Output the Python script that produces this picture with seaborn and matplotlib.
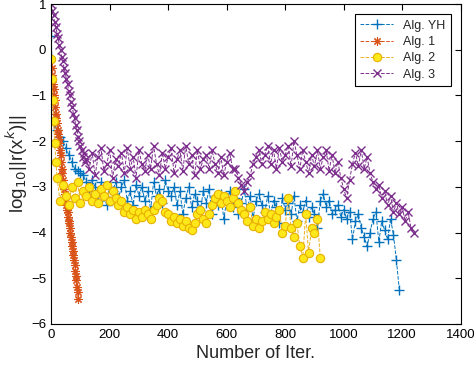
import numpy as np
import pandas as pd
import matplotlib
matplotlib.use("Agg")
import matplotlib.pyplot as plt
import seaborn as sns

# Alg. YH: iterations 0..1190, step 10
yh_vals = [0.3, -1.6, -1.75, -1.9, -2.0, -2.15, -2.3, -2.45, -2.6, -2.65, -2.7,
           -2.75, -2.9, -3.1, -2.85, -3.0, -3.3, -2.9, -3.2, -3.4, -3.0,
           -3.1, -2.9, -3.25, -3.0, -2.85, -3.3, -3.1, -3.4, -2.95, -3.2,
           -3.0, -3.3, -3.1, -3.5, -2.9, -3.2, -3.05, -3.35, -2.85, -3.1,
           -3.2, -3.0, -3.4, -3.1, -3.6, -3.25, -3.0, -3.45, -3.15, -3.3,
           -3.5, -3.1, -3.35, -3.05, -3.6, -3.2, -3.4, -3.15, -3.7, -3.3,
           -3.1, -3.45, -3.25, -3.6, -3.35, -3.05, -3.5, -3.2, -3.7, -3.3,
           -3.15, -3.4, -3.55, -3.2, -3.6, -3.3, -3.45, -3.8, -3.25, -3.5,
           -3.35, -3.6, -3.2, -3.75, -3.4, -3.55, -3.3, -3.65, -3.45, -3.6,
           -3.9, -3.3, -3.15, -3.45, -3.3, -3.6, -3.5, -3.4, -3.65, -3.5,
           -3.7, -3.55, -4.15, -3.75, -3.6, -3.9, -4.1, -4.3, -4.0, -3.7,
           -3.55, -4.2, -3.75, -3.95, -4.15, -3.7, -4.05, -4.6, -5.25]

# Alg. 1: iterations 0..92, step 2
alg1_vals = [-0.2, -0.4, -0.55, -0.75, -0.85, -1.0, -1.1, -1.25, -1.4, -1.5,
             -1.6, -1.75, -1.85, -1.95, -2.05, -2.2, -2.3, -2.45, -2.6, -2.7,
             -2.85, -2.95, -3.05, -3.15, -3.25, -3.3, -3.4, -3.5, -3.55, -3.65,
             -3.75, -3.8, -3.9, -4.0, -4.1, -4.2, -4.3, -4.4, -4.5, -4.6,
             -4.7, -4.85, -4.95, -5.05, -5.2, -5.3, -5.45]

# Alg. 2: first iterations given explicitly, then 30..920 step 10
alg2_head_iter = [0, 3, 5, 8, 12, 16, 20]
alg2_head_vals = [-0.2, -0.65, -1.1, -1.55, -2.05, -2.45, -2.8]
alg2_vals = [-3.3, -2.95, -3.2, -3.4, -3.0, -3.25, -2.9, -3.35, -3.1, -3.2,
             -3.0, -3.3, -3.15, -3.35, -3.05, -3.2, -2.95, -3.3, -3.1, -3.25,
             -3.4, -3.3, -3.55, -3.45, -3.6, -3.5, -3.7, -3.55, -3.65, -3.5,
             -3.6, -3.7, -3.5, -3.4, -3.25, -3.3, -3.55, -3.6, -3.75, -3.65,
             -3.8, -3.7, -3.85, -3.75, -3.9, -3.95, -3.8, -3.6, -3.5, -3.7,
             -3.8, -3.6, -3.4, -3.25, -3.15, -3.35, -3.2, -3.3, -3.45, -3.25,
             -3.1, -3.35, -3.5, -3.6, -3.75, -3.45, -3.85, -3.7, -3.9, -3.75,
             -3.55, -3.7, -3.6, -3.8, -3.65, -3.5, -4.0, -3.85, -3.25, -3.9,
             -4.1, -3.8, -4.3, -4.55, -3.6, -4.45, -3.9, -4.0, -3.7, -4.55]

# Alg. 3: steep start 0..120 step 4, then 130..1240 step 10
alg3_head_vals = [1.0, 0.85, 0.75, 0.6, 0.5, 0.35, 0.25, 0.1, 0.0, -0.15,
                  -0.25, -0.4, -0.5, -0.65, -0.75, -0.9, -1.0, -1.15, -1.25, -1.4,
                  -1.5, -1.65, -1.75, -1.9, -2.0, -2.1, -2.2, -2.35, -2.25, -2.45, -2.4]
alg3_vals = [-2.6, -2.25, -2.75, -2.35, -2.15, -2.65, -2.5, -2.2, -2.8, -2.4,
             -2.55, -2.25, -2.7, -2.15, -2.6, -2.35, -2.8, -2.2, -2.5, -2.65,
             -2.3, -2.6, -2.1, -2.5, -2.75, -2.25, -2.6, -2.35, -2.15, -2.7,
             -2.4, -2.2, -2.65, -2.1, -2.5, -2.3, -2.75, -2.2, -2.6, -2.4,
             -2.3, -2.6, -2.2, -2.5, -2.7, -2.35, -2.75, -2.45, -2.25, -2.6,
             -2.6, -2.8, -2.95, -3.1, -2.9, -2.75, -2.5, -2.35, -2.2, -2.5,
             -2.3, -2.1, -2.5, -2.2, -2.6, -2.15, -2.45, -2.3, -2.1, -2.55,
             -2.0, -2.3, -2.6, -2.2, -2.45, -2.7, -2.3, -2.55, -2.2, -2.6,
             -2.35, -2.2, -2.65, -2.3, -2.7, -2.45, -2.8, -3.05, -3.25, -2.85,
             -2.5, -2.25, -2.55, -2.2, -2.6, -2.35, -2.7, -2.9, -3.05, -2.95,
             -3.25, -3.1, -3.4, -3.2, -3.55, -3.35, -3.6, -3.45, -3.75, -3.55, -3.9, -4.0]

series_names = ["Alg. YH", "Alg. 1", "Alg. 2", "Alg. 3"]
colors = ["#0072BD", "#D95319", "#EDB120", "#7E2F8E"]


def build_frame():
    parts = []
    parts.append(pd.DataFrame({"iter": np.arange(len(yh_vals)) * 10, "val": yh_vals, "alg": "Alg. YH"}))
    parts.append(pd.DataFrame({"iter": np.arange(len(alg1_vals)) * 2, "val": alg1_vals, "alg": "Alg. 1"}))
    a2_iter = list(alg2_head_iter) + list(30 + np.arange(len(alg2_vals)) * 10)
    parts.append(pd.DataFrame({"iter": a2_iter, "val": alg2_head_vals + alg2_vals, "alg": "Alg. 2"}))
    a3_iter = list(np.arange(len(alg3_head_vals)) * 4) + list(130 + np.arange(len(alg3_vals)) * 10)
    parts.append(pd.DataFrame({"iter": a3_iter, "val": alg3_head_vals + alg3_vals, "alg": "Alg. 3"}))
    return pd.concat(parts, ignore_index=True)


def make_plot():
    df = build_frame()
    sns.set_style("white")
    plt.rcParams["font.family"] = ["Liberation Sans", "DejaVu Sans"]

    fig = plt.figure(figsize=(4.74, 3.66), dpi=100)
    ax = fig.add_axes([0.108, 0.115, 0.864, 0.874])

    # seaborn defaults marker edges to white, so set them explicitly
    styles = {
        "Alg. YH": dict(marker="+", markersize=7, markeredgewidth=1.0, markeredgecolor=colors[0]),
        "Alg. 1": dict(marker=(8, 2, 0), markersize=6, markeredgewidth=0.8, markeredgecolor=colors[1]),
        "Alg. 2": dict(marker="o", markersize=6, markerfacecolor="#FFE81A",
                       markeredgecolor="#E8B000", markeredgewidth=0.8),
        "Alg. 3": dict(marker="x", markersize=5.5, markeredgewidth=1.0, markeredgecolor=colors[3]),
    }
    for name, col in zip(series_names, colors):
        sub = df[df["alg"] == name]
        sns.lineplot(data=sub, x="iter", y="val", ax=ax, color=col, linestyle="--",
                     linewidth=0.7, label=name, sort=False, estimator=None, **styles[name])

    ax.set_xlim(0, 1400)
    ax.set_ylim(-6, 1)
    ax.set_xticks(range(0, 1401, 200))
    ax.set_yticks(range(-6, 2))
    ax.tick_params(direction="in", top=True, right=True, length=4, width=0.8,
                   labelsize=9.5, colors="black")
    for sp in ax.spines.values():
        sp.set_color("black")
        sp.set_linewidth(0.8)
    ax.set_xlabel("Number of Iter.", fontsize=13, labelpad=3)
    ax.set_ylabel("log$_{10}$||r(x$^k$)||", fontsize=13.5, labelpad=1)

    leg = ax.legend(loc="upper right", fontsize=9, frameon=True, fancybox=False,
                    edgecolor="black", framealpha=1, borderpad=0.45, labelspacing=0.35,
                    handlelength=2.6, borderaxespad=0.8)
    leg.get_frame().set_linewidth(0.8)

    fig.savefig("out.png", dpi=100)
    plt.close(fig)


if __name__ == "__main__":
    make_plot()
